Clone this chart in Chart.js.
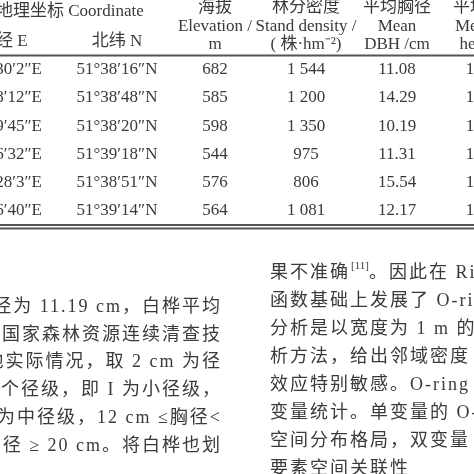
<!DOCTYPE html>
<html>
<head>
<meta charset="utf-8">
<script src="https://cdn.jsdelivr.net/npm/chart.js@4"></script>
<style>
  body { margin: 0; background: #fff; }
  #wrap { width: 474px; height: 474px; }
</style>
</head>
<body>
<div id="wrap"><canvas id="tableChart" width="474" height="474"></canvas></div>
<script>
// table content
const eastCoords = ['30\u20322\u2033E', '8\u203212\u2033E', '9\u203245\u2033E', '6\u203232\u2033E', '28\u20323\u2033E', '6\u203240\u2033E'];
const northCoords = ['51°38\u203216\u2033N', '51°38\u203248\u2033N', '51°38\u203220\u2033N', '51°39\u203218\u2033N', '51°38\u203251\u2033N', '51°39\u203214\u2033N'];
const elevation = ['682', '585', '598', '544', '576', '564'];
const standDensity = ['1 544', '1 200', '1 350', '975', '806', '1 081'];
const meanDbh = ['11.08', '14.29', '10.19', '11.31', '15.54', '12.17'];
const lastCol = ['1', '1', '1', '1', '1', '1'];

const leftText = [
  '径为 11.19 cm，白桦平均',
  '国家森林资源连续清查技',
  '地实际情况，取 2 cm 为径',
  '5 个径级，即 I 为小径级，',
  '为中径级，12 cm ≤胸径<',
  '胸径 ≥ 20 cm。将白桦也划'
];
const rightText = [
  '果不准确',
  '函数基础上发展了 O-ring',
  '分析是以宽度为 1 m 的圆环',
  '析方法，给出邻域密度',
  '效应特别敏感。O-ring 统计',
  '变量统计。单变量的 O-ring',
  '空间分布格局，双变量',
  '要素空间关联性'
];

const FONT = '"Liberation Serif", "Noto Sans CJK SC", serif';
const INK = '#3a3a3a';

const textPlugin = {
  id: 'tableText',
  afterDraw(chart) {
    const ctx = chart.ctx;
    const sx = chart.scales.x, sy = chart.scales.y;
    const px = v => sx.getPixelForValue(v);
    const py = v => sy.getPixelForValue(v);
    function put(t, x, y, size, align, spacing) {
      ctx.font = size + 'px ' + FONT;
      ctx.letterSpacing = (spacing || 0) + 'px';
      ctx.textAlign = align || 'center';
      ctx.textBaseline = 'middle';
      ctx.fillStyle = INK;
      ctx.fillText(t, px(x), py(y));
    }
    ctx.save();
    // header
    put('地理坐标 Coordinate', -4, 12, 17, 'left');
    put('经 E', -4, 42, 17, 'left');
    put('北纬 N', 117, 42, 17);
    [['海拔', 'Elevation /', 'm', 215], ['林分密度', 'Stand density /', '( 株·hm⁻²)', 306],
     ['平均胸径', 'Mean', 'DBH /cm', 397], ['平均', 'Mea', 'hei', 470]].forEach(h => {
      put(h[0], h[3], 8, 17); put(h[1], h[3], 27, 17); put(h[2], h[3], 45, 17);
    });
    // rules
    ctx.strokeStyle = '#555';
    ctx.lineWidth = 2;
    [[55.5], [225], [228.5]].forEach(r => {
      ctx.beginPath(); ctx.moveTo(px(0), py(r[0])); ctx.lineTo(px(474), py(r[0])); ctx.stroke();
    });
    // rows
    const rowY = [70, 98, 127, 155, 183, 211];
    rowY.forEach((y, i) => {
      put(eastCoords[i], 42, y, 17, 'right');
      put(northCoords[i], 117, y, 17);
      put(elevation[i], 215, y, 17);
      put(standDensity[i], 306, y, 17);
      put(meanDbh[i], 397, y, 17);
      put(lastCol[i], 470, y, 17);
    });
    // body text
    const leftY = [307, 335, 362, 390, 418, 446];
    leftText.forEach((t, i) => put(t, 222, leftY[i], 18, 'right', 2));
    const rightY = [273, 301, 329, 357, 385, 413, 441, 469];
    rightText.forEach((t, i) => put(t, 270, rightY[i], 18, 'left', 2));
    // superscript after first right line
    ctx.font = '18px ' + FONT;
    ctx.letterSpacing = '2px';
    const w = ctx.measureText(rightText[0]).width;
    put('[11]', 270 + w + 1, 266, 11, 'left');
    put('。因此在 Ripley', 270 + w + 19, 273, 18, 'left', 2);
    ctx.restore();
  }
};

new Chart(document.getElementById('tableChart'), {
  type: 'scatter',
  data: { datasets: [{ data: [] }] },
  options: {
    responsive: false,
    animation: false,
    layout: { padding: 0 },
    plugins: { legend: { display: false }, tooltip: { enabled: false } },
    scales: {
      x: { type: 'linear', min: 0, max: 474, display: false },
      y: { type: 'linear', min: 0, max: 474, reverse: true, display: false }
    }
  },
  plugins: [textPlugin]
});
</script>
</body>
</html>
